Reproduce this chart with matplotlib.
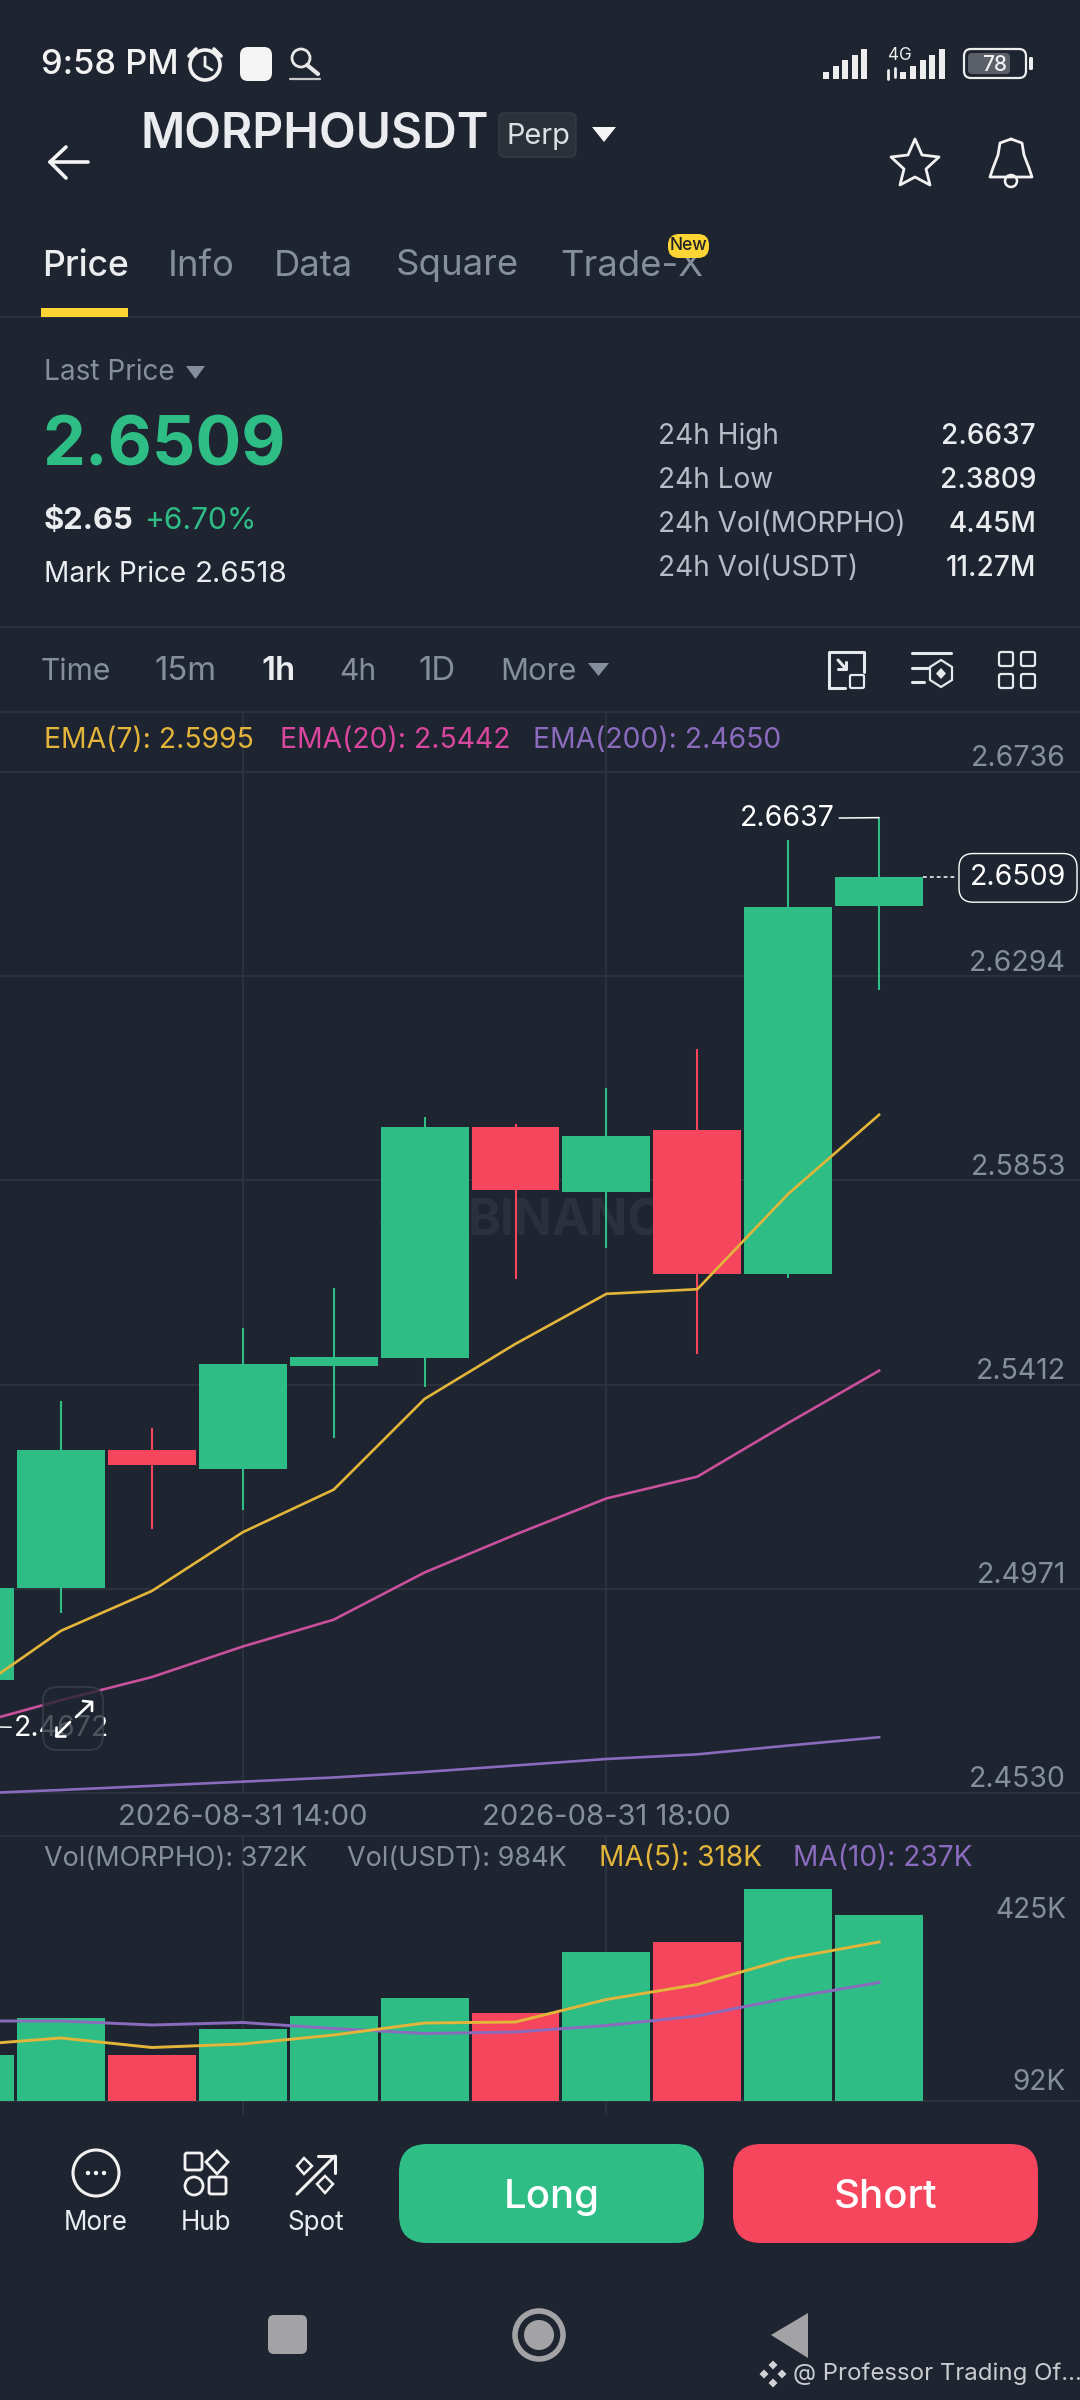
import matplotlib
matplotlib.use('Agg')
import matplotlib.pyplot as plt
from matplotlib.patches import FancyBboxPatch, Circle, Polygon, Rectangle
from matplotlib.lines import Line2D

plt.rcParams['font.family'] = ['Inter', 'DejaVu Sans']

# ---------- data ----------
candle_idx = [0, 1, 2, 3, 4, 5, 6, 7, 8, 9, 10]
opens  = [2.4774, 2.4973, 2.5271, 2.5229, 2.5453, 2.5470, 2.5968, 2.5829, 2.5963, 2.5651, 2.6447]
closes = [2.4973, 2.5271, 2.5239, 2.5457, 2.5471, 2.5968, 2.5832, 2.5950, 2.5651, 2.6444, 2.6509]
highs  = [2.4990, 2.5376, 2.5319, 2.5534, 2.5620, 2.5990, 2.5976, 2.6052, 2.6136, 2.6589, 2.6637]
lows   = [2.4672, 2.4918, 2.5100, 2.5142, 2.5297, 2.5407, 2.5641, 2.5707, 2.5479, 2.5643, 2.6265]
ema7   = [2.4743, 2.4880, 2.4966, 2.5093, 2.5185, 2.5381, 2.5500, 2.5608, 2.5618, 2.5824, 2.5995]
ema20  = [2.4676, 2.4730, 2.4780, 2.4846, 2.4904, 2.5006, 2.5088, 2.5166, 2.5213, 2.5329, 2.5442]
ema200 = [2.4528, 2.4536, 2.4545, 2.4554, 2.4563, 2.4575, 2.4589, 2.4603, 2.4613, 2.4632, 2.4650]
volumes = [93, 166, 93, 145, 170, 207, 176, 298, 318, 424, 372]
ma5  = [112, 126, 107, 114, 132, 156, 158, 203, 233, 285, 318]
ma10 = [160, 160, 152, 157, 145, 135, 138, 151, 170, 206, 237]
price_ticks = [2.6736, 2.6294, 2.5853, 2.5412, 2.4971, 2.4530]
time_idx = [3, 7]
time_labels = ['2026-08-31 14:00', '2026-08-31 18:00']
last_price = 2.6509
high_price = 2.6637
low_price = 2.4672

# ---------- style ----------
BG = '#1E2430'
GRID = '#2D343F'
GREEN = '#2EBD85'
RED = '#F6465D'
YELLOW = '#E3B53A'
PINK = '#C9509B'
PURPLE = '#8A6BBE'
GRAY = '#848E9C'
LIGHT = '#B7BDC6'
WHITE = '#EAECEF'

W, H = 1080, 2400
fig = plt.figure(figsize=(10.8, 24), dpi=100, facecolor=BG)


def axpos(y0, y1):
    return [0, 1 - y1 / H, 1, (y1 - y0) / H]


K = 0.00021607  # price per pixel
Y0, Y1 = 711.5, 1794.0
XLIM = (0.329, 12.21)
ax = fig.add_axes(axpos(Y0, Y1), facecolor=BG)
ax.set_xlim(*XLIM)
ax.set_ylim(price_ticks[0] - (Y1 - 771.8) * K, price_ticks[0] + (771.8 - Y0) * K)
vax = fig.add_axes(axpos(1835.8, 2114), facecolor=BG)
vax.set_xlim(*XLIM)
vax.set_ylim(-26, 530.4)
for a in (ax, vax):
    for s in a.spines.values():
        s.set_visible(False)
    a.set_axisbelow(True)
    a.tick_params(length=0)

ax.set_yticks(price_ticks)
ax.set_yticklabels([])
ax.set_xticks(time_idx)
ax.set_xticklabels(time_labels, fontsize=21, color=GRAY)
ax.tick_params(axis='x', pad=7)
ax.grid(True, color=GRID, lw=1.3)
vax.set_xticks(time_idx)
vax.set_xticklabels([])
vax.set_yticks([0])
vax.set_yticklabels([])
vax.grid(True, color=GRID, lw=1.3)

# watermark
ax.text(0.433, 0.528, 'BINANCE', transform=ax.transAxes, fontsize=36, fontweight='bold',
        color='#2A303C', ha='left', va='center', zorder=0.6)
ax.text(0.366, 0.528, '\u25C6', transform=ax.transAxes, fontsize=30, family='DejaVu Sans',
        color='#2A303C', ha='center', va='center', zorder=0.6)

# candles
for i, o, c, h, l in zip(candle_idx, opens, closes, highs, lows):
    col = GREEN if c >= o else RED
    ax.vlines(i, l, h, color=col, lw=1.5, zorder=2)
    ax.bar(i, abs(c - o), bottom=min(o, c), width=0.968, color=col, zorder=3)

# moving averages
ax.plot(candle_idx, ema7, color=YELLOW, lw=1.9, zorder=4)
ax.plot(candle_idx, ema20, color=PINK, lw=1.9, zorder=4)
ax.plot(candle_idx, ema200, color=PURPLE, lw=1.9, zorder=4)

# price axis labels
for p in price_ticks:
    ax.annotate(f'{p:.4f}', xy=(1, p), xycoords=ax.get_yaxis_transform(), xytext=(-14, 13),
                textcoords='offset pixels', ha='right', va='center', fontsize=20.5, color=GRAY)

# high / low / last markers
ax.annotate(f'{high_price:.4f}', xy=(10, high_price), xytext=(-44, -1), textcoords='offset pixels',
            ha='right', va='center', fontsize=20.5, color='white',
            arrowprops=dict(arrowstyle='-', color='white', lw=1.1, shrinkA=1, shrinkB=0), zorder=6)
ax.annotate(f'{low_price:.4f}', xy=(XLIM[0], low_price), xytext=(14, -1), textcoords='offset pixels',
            ha='left', va='center', fontsize=20.5, color='white',
            arrowprops=dict(arrowstyle='-', color='white', lw=1.1, shrinkA=0, shrinkB=0), zorder=6)
ax.hlines(last_price, 10.484, 10.86, color='white', lw=1.1, linestyles=(0, (2.5, 2)), zorder=2)
ax.annotate(f'{last_price:.4f}', xy=(1, last_price), xycoords=ax.get_yaxis_transform(), xytext=(-62, -1),
            textcoords='offset pixels', ha='center', va='center', fontsize=20.5, color='white',
            bbox=dict(boxstyle='round,pad=0.38,rounding_size=0.5', fc=BG, ec='white', lw=1.0), zorder=7)

# volume panel
for i, v, o, c in zip(candle_idx, volumes, opens, closes):
    vax.bar(i, v, width=0.968, color=GREEN if c >= o else RED, zorder=3)
vax.plot(candle_idx, ma10, color=PURPLE, lw=2.1, zorder=4)
vax.plot(candle_idx, ma5, color=YELLOW, lw=2.1, zorder=5)

# ---------- overlay in pixel coordinates ----------
ui = fig.add_axes([0, 0, 1, 1], facecolor='none', zorder=10)
ui.set_xlim(0, W)
ui.set_ylim(H, 0)
ui.axis('off')


def T(x, y, s, px=28, color=WHITE, weight='normal', ha='left', va='center'):
    ui.text(x, y + 3, s, fontsize=px * 0.72, color=color, fontweight=weight, ha=ha, va=va)


def rrect(x0, y0, x1, y1, r, fc='none', ec='none', lw=1.0, alpha=None, z=2):
    p = FancyBboxPatch((x0 + r, y0 + r), x1 - x0 - 2 * r, y1 - y0 - 2 * r,
                       boxstyle=f'round,pad={r},rounding_size={r}', fc=fc, ec=ec, lw=lw, alpha=alpha, zorder=z)
    ui.add_patch(p)


def L(xs, ys, color=WHITE, lw=2.0, z=3):
    ui.add_line(Line2D(xs, ys, color=color, lw=lw, zorder=z, solid_capstyle='round', solid_joinstyle='round'))


def tri(pts, color):
    ui.add_patch(Polygon(pts, closed=True, fc=color, ec='none', zorder=3))


def ring(x, y, r, color=WHITE, lw=2.0, fc='none'):
    ui.add_patch(Circle((x, y), r, fc=fc, ec=color, lw=lw, zorder=3))


# status bar
T(41, 62, '9:58 PM', 34.5, '#F2F2F2', 'medium')
ring(205, 65, 15, '#F0F0F0', 2.6)
L([205, 205, 212], [57, 66, 70], '#F0F0F0', 2)
L([189, 196], [56, 49], '#F0F0F0', 2.6)
L([214, 221], [49, 56], '#F0F0F0', 2.6)
rrect(240, 47, 272, 81, 8, fc='#F5F5F5')
ring(301, 58, 9, '#E8E8E8', 2)
L([307, 318], [65, 74], '#E8E8E8', 3)
L([290, 320], [79, 79], '#C8C8C8', 1.6)
for k, xs in enumerate([(823, 871), (900, 949)]):
    n = 5
    for j in range(n):
        bx = xs[0] + j * (xs[1] - xs[0]) / n
        h_ = 7 + j * 5.8
        ui.add_patch(Rectangle((bx, 79 - h_), 6, h_, fc='#EDEDED', ec='none', zorder=3))
T(900, 52, '4G', 17, '#EDEDED', ha='center')
L([888, 888], [70, 79], '#EDEDED', 2)
L([895, 895], [68, 77], '#EDEDED', 2)
rrect(964, 49, 1026, 78, 7, ec='#EDEDED', lw=1.6)
rrect(968, 53, 1010, 74, 4, fc='#5A5F68')
T(995, 62, '78', 21, '#F0F0F0', 'medium', ha='center')
rrect(1029, 57, 1033, 70, 1.5, fc='#EDEDED')

# header
L([50, 88], [162, 162], '#F5F5F5', 2.6)
L([66, 50, 66], [147, 162, 178], '#F5F5F5', 2.6)
T(141, 132, 'MORPHOUSDT', 48, WHITE, 'semibold')
rrect(499, 113, 576, 157, 6, fc='#2B3139', ec='#363D47', lw=1)
T(538, 134, 'Perp', 29, '#DDE0E5', ha='center')
tri([(592, 127), (616, 127), (604, 142)], '#F5F5F5')
star = [(915, 139), (922, 155), (939, 157), (926, 169), (930, 185), (915, 177), (900, 185), (904, 169), (891, 157), (908, 155)]
ui.add_patch(Polygon(star, closed=True, fc='none', ec='#F2F2F2', lw=2.0, zorder=3, joinstyle='round'))
L([1011, 1000, 998, 993, 990, 1032, 1029, 1024, 1022, 1011], [139, 143, 155, 168, 177, 177, 168, 155, 143, 139], '#F2F2F2', 2.0)
ring(1011, 181, 6, '#F2F2F2', 1.8)

# tabs
T(42, 263, 'Price', 35.5, WHITE, 'medium')
for x_, s_ in [(168, 'Info'), (274, 'Data'), (396, 'Square'), (560, 'Trade-X')]:
    T(x_, 263, s_, 36.5, GRAY)
ui.add_patch(Rectangle((41, 308), 87, 9, fc='#FCD535', ec='none', zorder=3))
rrect(668, 234, 709, 258, 11, fc='#FCD535', z=4)
ui.text(688.5, 246, 'New', fontsize=12.5, color='#1E2329', ha='center', va='center', fontweight='medium', zorder=5)
for y_ in [317, 627, 711.5, 1835.8]:
    L([0, W], [y_, y_], GRID, 1.2, z=1)

# quote block
T(44, 370, 'Last Price', 28, GRAY)
tri([(186, 366), (205, 366), (195.5, 379)], GRAY)
T(42, 444, '2.6509', 68, GREEN, 'bold')
T(44, 518, '$2.65', 31, WHITE, 'bold')
T(144, 518, '+6.70%', 30, GREEN)
T(44, 571, 'Mark Price', 28, WHITE)
T(195, 571, '2.6518', 29.5, WHITE)
for y_, a_, b_ in [(433.6, '24h High', '2.6637'), (477, '24h Low', '2.3809'),
                   (521, '24h Vol(MORPHO)', '4.45M'), (565, '24h Vol(USDT)', '11.27M')]:
    T(658, y_, a_, 28, LIGHT)
    T(1036, y_, b_, 28, WHITE, 'medium', ha='right')

# interval row
for x_, s_, p_ in [(41, 'Time', 30), (155, '15m', 33), (339, '4h', 30), (419, '1D', 33), (500, 'More', 31)]:
    T(x_, 669, s_, p_, GRAY)
T(261, 669, '1h', 33, WHITE, 'semibold')
tri([(588, 663), (609, 663), (598.5, 676)], GRAY)
# chart tool icons
L([829, 829, 864, 864], [688, 652, 652, 672], '#E6E8EB', 2.2)
L([829, 845], [688, 688], '#E6E8EB', 2.2)
L([838, 846], [660, 669], '#E6E8EB', 2.2)
L([838, 846, 846], [669, 669, 662], '#E6E8EB', 2.2)
rrect(850, 675, 864, 688, 1.5, ec='#E6E8EB', lw=1.6)
L([912, 951], [653, 653], '#E6E8EB', 2.2)
L([912, 928], [668, 668], '#E6E8EB', 2.2)
L([912, 924], [682, 682], '#E6E8EB', 2.2)
ui.add_patch(Polygon([(941, 660), (952, 667), (952, 680), (941, 687), (930, 680), (930, 667)], closed=True, fc='none', ec='#E6E8EB', lw=1.6, zorder=3))
ui.add_patch(Polygon([(941, 668), (946, 673.5), (941, 679), (936, 673.5)], closed=True, fc='#E6E8EB', ec='none', zorder=3))
for bx, by in [(999, 652), (1021, 652), (999, 674), (1021, 674)]:
    rrect(bx, by, bx + 14, by + 14, 2, ec='#E6E8EB', lw=1.6)

# indicator legends
for x_, s_, c_ in [(44, 'EMA(7): 2.5995', YELLOW), (280, 'EMA(20): 2.5442', '#D9479F'), (533, 'EMA(200): 2.4650', PURPLE)]:
    T(x_, 738, s_, 28.3, c_)
for x_, s_, c_, p_ in [(44, 'Vol(MORPHO): 372K', GRAY, 27), (347, 'Vol(USDT): 984K', GRAY, 27), (599, 'MA(5): 318K', YELLOW, 28), (793, 'MA(10): 237K', PURPLE, 28)]:
    T(x_, 1856, s_, p_, c_)
T(1066, 1908, '425K', 28, GRAY, ha='right')
T(1066, 2080, '92K', 28, GRAY, ha='right')

# expand button
rrect(43, 1687, 103, 1750, 14, fc=BG, ec='#3B424E', lw=1.4, alpha=0.78, z=4)
L([76, 92], [1717, 1702], 'white', 1.9, z=5)
L([83, 92, 92], [1701, 1702, 1711], 'white', 1.9, z=5)
L([56, 70], [1736, 1722], 'white', 1.9, z=5)
L([56, 56, 65], [1727, 1736, 1736], 'white', 1.9, z=5)

# bottom actions
ring(96, 2173, 23, '#F2F2F2', 2.2)
for dx in (-8, 0, 8):
    ui.add_patch(Circle((96 + dx, 2173), 2.2, fc='#F2F2F2', ec='none', zorder=3))
rrect(185, 2153, 202, 2170, 2, ec='#F2F2F2', lw=2)
ui.add_patch(Polygon([(217, 2151), (228, 2162), (217, 2174), (206, 2162)], closed=True, fc='none', ec='#F2F2F2', lw=2, zorder=3))
ring(194, 2186, 9, '#F2F2F2', 2)
rrect(209, 2177, 226, 2194, 2, ec='#F2F2F2', lw=2)
L([297, 335], [2194, 2156], '#F2F2F2', 2.2)
L([318, 335, 335], [2156, 2156, 2173], '#F2F2F2', 2.2)
ui.add_patch(Polygon([(304, 2158), (312, 2166), (304, 2174), (297, 2166)], closed=True, fc='none', ec='#F2F2F2', lw=1.8, zorder=3))
ui.add_patch(Polygon([(325, 2176), (333, 2184), (325, 2193), (317, 2184)], closed=True, fc='none', ec='#F2F2F2', lw=1.8, zorder=3))
for x_, s_ in [(96, 'More'), (206, 'Hub'), (316, 'Spot')]:
    T(x_, 2220, s_, 26, WHITE, ha='center')
rrect(399, 2144, 704, 2243, 28, fc=GREEN)
rrect(733, 2144, 1038, 2243, 28, fc=RED)
ui.text(552, 2198, 'Long', fontsize=29, color='white', ha='center', va='center', fontweight='medium', zorder=5)
ui.text(886, 2198, 'Short', fontsize=29, color='white', ha='center', va='center', fontweight='medium', zorder=5)

# navigation
rrect(268, 2315, 307, 2354, 6, fc='#A3A3A6')
ring(539, 2335, 24, '#A3A3A6', 4)
ui.add_patch(Circle((539, 2335), 15, fc='#A3A3A6', ec='none', zorder=3))
tri([(808, 2313), (808, 2358), (771, 2335)], '#A3A3A6')

# footer watermark
for dx, dy in [(0, -9), (0, 9), (-9, 0), (9, 0)]:
    s = 4.5
    ui.add_patch(Polygon([(773 + dx, 2374 + dy - s), (773 + dx + s, 2374 + dy), (773 + dx, 2374 + dy + s), (773 + dx - s, 2374 + dy)],
                         closed=True, fc='#D0D2D6', ec='none', zorder=3))
T(793, 2371, '@ Professor Trading Of...', 24, '#C9CBCF')

fig.savefig('out.png', dpi=100, facecolor=BG)
